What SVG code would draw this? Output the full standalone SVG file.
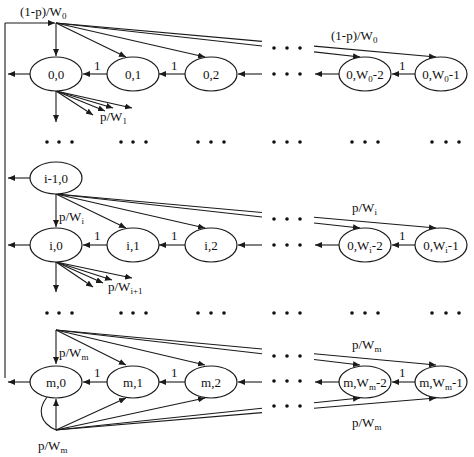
<svg xmlns="http://www.w3.org/2000/svg" width="474" height="457" viewBox="0 0 474 457">
<style>
.l{stroke:#1a1a1a;stroke-width:1.1;fill:none}
.a{stroke:#1a1a1a;stroke-width:1.1;fill:none;marker-end:url(#ah)}
ellipse{fill:#fff;stroke:#1a1a1a;stroke-width:1.2}
text{font-family:"Liberation Serif","Times New Roman",serif;font-size:13px;fill:#111}
.n{text-anchor:middle}
.s{font-size:9px}
circle{fill:#111}
</style>
<defs>
<marker id="ah" markerUnits="userSpaceOnUse" markerWidth="8" markerHeight="6" refX="7" refY="3" orient="auto">
<path d="M0,0 L7,3 L0,6 z" fill="#1a1a1a"/>
</marker>
</defs>
<rect width="474" height="457" fill="#fff"/>
<g id="connectors">
<!-- left loop -->
<path class="l" d="M5,378 V23"/>
<path class="a" d="M5,23 H55"/>
<path class="a" d="M30,74 H8"/>
<path class="a" d="M30,178 H8"/>
<path class="a" d="M30,245 H8"/>
<path class="a" d="M30,382 H8"/>
<!-- row 0 top fan -->
<path class="a" d="M56,23 V56"/>
<path class="a" d="M56,23 L126,57"/>
<path class="a" d="M56,23 L205,57"/>
<path class="l" d="M56,23 L262,41.4"/>
<path class="l" d="M56,23 L262,46"/>
<path class="a" d="M314,46.1 L436,57"/>
<path class="a" d="M314,51.9 L360,57"/>
<!-- row 0 horizontals -->
<path class="a" d="M107,74 H83"/>
<path class="a" d="M185,74 H159"/>
<path class="a" d="M262,74 H238"/>
<path class="a" d="M339,74 H315"/>
<path class="a" d="M415,74 H392"/>
<!-- row 0 bottom fan -->
<path class="a" d="M56,91 V122"/>
<path class="a" d="M56,91 L93,115"/>
<path class="a" d="M56,91 L105,111"/>
<path class="a" d="M56,91 L113,108"/>
<path class="a" d="M56,91 L132,108"/>
<!-- i-1 fan -->
<path class="a" d="M56,194 V227"/>
<path class="a" d="M56,194 L126,228"/>
<path class="a" d="M56,194 L205,228"/>
<path class="l" d="M56,194 L262,212.5"/>
<path class="l" d="M56,194 L262,217"/>
<path class="a" d="M314,217.2 L436,228"/>
<path class="a" d="M314,223 L360,228"/>
<!-- row i horizontals -->
<path class="a" d="M107,245 H83"/>
<path class="a" d="M185,245 H159"/>
<path class="a" d="M262,245 H238"/>
<path class="a" d="M339,245 H315"/>
<path class="a" d="M415,245 H392"/>
<!-- row i bottom fan -->
<path class="a" d="M56,262 V292"/>
<path class="a" d="M56,262 L93,287"/>
<path class="a" d="M56,262 L103,283"/>
<path class="a" d="M56,262 L112,280"/>
<path class="a" d="M56,262 L132,278"/>
<!-- row m top fan -->
<path class="a" d="M56,330 V364"/>
<path class="a" d="M56,330 L126,365"/>
<path class="a" d="M56,330 L205,365"/>
<path class="l" d="M56,330 L262,349"/>
<path class="l" d="M56,330 L262,353.7"/>
<path class="a" d="M314,353.8 L436,365"/>
<path class="a" d="M314,359.5 L360,365"/>
<!-- row m horizontals -->
<path class="a" d="M107,382 H83"/>
<path class="a" d="M185,382 H159"/>
<path class="a" d="M262,382 H238"/>
<path class="a" d="M339,382 H315"/>
<path class="a" d="M415,382 H392"/>
<!-- row m bottom fan -->
<path class="l" d="M47,397 C37,410 40,423 56,430"/>
<path class="a" d="M56,430 V399"/>
<path class="a" d="M56,430 L126,398"/>
<path class="a" d="M56,430 L205,398"/>
<path class="l" d="M56,430 L262,412.6"/>
<path class="l" d="M56,430 L262,408.3"/>
<path class="a" d="M314,408.3 L436,398"/>
<path class="a" d="M314,402.8 L360,398"/>
</g>
<g id="labels">
<text x="20" y="16">(1-p)/W<tspan class="s" dy="3">0</tspan></text>
<text x="331" y="40">(1-p)/W<tspan class="s" dy="3">0</tspan></text>
<text x="94" y="70">1</text>
<text x="171" y="70">1</text>
<text x="399" y="70">1</text>
<text x="100" y="121">p/W<tspan class="s" dy="3">1</tspan></text>
<text x="59" y="221">p/W<tspan class="s" dy="3">i</tspan></text>
<text x="352" y="212">p/W<tspan class="s" dy="3">i</tspan></text>
<text x="94" y="240">1</text>
<text x="171" y="240">1</text>
<text x="399" y="240">1</text>
<text x="108" y="291">p/W<tspan class="s" dy="3">i+1</tspan></text>
<text x="59" y="357">p/W<tspan class="s" dy="3">m</tspan></text>
<text x="352" y="349">p/W<tspan class="s" dy="3">m</tspan></text>
<text x="94" y="377">1</text>
<text x="171" y="377">1</text>
<text x="399" y="377">1</text>
<text x="352" y="427">p/W<tspan class="s" dy="3">m</tspan></text>
<text x="38" y="450">p/W<tspan class="s" dy="3">m</tspan></text>
</g>
<g id="dots">
<circle cx="274" cy="48" r="1.8"/><circle cx="287" cy="48" r="1.8"/><circle cx="300" cy="48" r="1.8"/>
<circle cx="274" cy="74" r="1.8"/><circle cx="287" cy="74" r="1.8"/><circle cx="300" cy="74" r="1.8"/>
<circle cx="47" cy="142" r="1.8"/><circle cx="59" cy="142" r="1.8"/><circle cx="72" cy="142" r="1.8"/>
<circle cx="121" cy="142" r="1.8"/><circle cx="133" cy="142" r="1.8"/><circle cx="146" cy="142" r="1.8"/>
<circle cx="198" cy="142" r="1.8"/><circle cx="211" cy="142" r="1.8"/><circle cx="224" cy="142" r="1.8"/>
<circle cx="274" cy="142" r="1.8"/><circle cx="287" cy="142" r="1.8"/><circle cx="300" cy="142" r="1.8"/>
<circle cx="352" cy="142" r="1.8"/><circle cx="365" cy="142" r="1.8"/><circle cx="378" cy="142" r="1.8"/>
<circle cx="432" cy="142" r="1.8"/><circle cx="446" cy="142" r="1.8"/><circle cx="459" cy="142" r="1.8"/>
<circle cx="274" cy="219" r="1.8"/><circle cx="287" cy="219" r="1.8"/><circle cx="300" cy="219" r="1.8"/>
<circle cx="274" cy="245" r="1.8"/><circle cx="287" cy="245" r="1.8"/><circle cx="300" cy="245" r="1.8"/>
<circle cx="47" cy="313" r="1.8"/><circle cx="59" cy="313" r="1.8"/><circle cx="72" cy="313" r="1.8"/>
<circle cx="121" cy="313" r="1.8"/><circle cx="133" cy="313" r="1.8"/><circle cx="146" cy="313" r="1.8"/>
<circle cx="198" cy="313" r="1.8"/><circle cx="211" cy="313" r="1.8"/><circle cx="224" cy="313" r="1.8"/>
<circle cx="274" cy="313" r="1.8"/><circle cx="287" cy="313" r="1.8"/><circle cx="300" cy="313" r="1.8"/>
<circle cx="352" cy="313" r="1.8"/><circle cx="365" cy="313" r="1.8"/><circle cx="378" cy="313" r="1.8"/>
<circle cx="432" cy="313" r="1.8"/><circle cx="446" cy="313" r="1.8"/><circle cx="459" cy="313" r="1.8"/>
<circle cx="274" cy="356" r="1.8"/><circle cx="287" cy="356" r="1.8"/><circle cx="300" cy="356" r="1.8"/>
<circle cx="274" cy="381" r="1.8"/><circle cx="287" cy="381" r="1.8"/><circle cx="300" cy="381" r="1.8"/>
<circle cx="274" cy="406" r="1.8"/><circle cx="287" cy="406" r="1.8"/><circle cx="300" cy="406" r="1.8"/>
</g>
<g id="n00"><ellipse cx="56" cy="74" rx="26" ry="17"/><text class="n" x="56" y="78.5">0,0</text></g>
<g id="n01"><ellipse cx="133" cy="74" rx="26" ry="17"/><text class="n" x="133" y="78.5">0,1</text></g>
<g id="n02"><ellipse cx="211" cy="74" rx="26" ry="17"/><text class="n" x="211" y="78.5">0,2</text></g>
<g id="n0w2"><ellipse cx="365" cy="74" rx="26" ry="17"/><text class="n" x="365" y="78.5">0,W<tspan class="s" dy="3">0</tspan><tspan dy="-3">-2</tspan></text></g>
<g id="n0w1"><ellipse cx="441" cy="74" rx="26" ry="17"/><text class="n" x="441" y="78.5">0,W<tspan class="s" dy="3">0</tspan><tspan dy="-3">-1</tspan></text></g>
<g id="ni10"><ellipse cx="56" cy="178" rx="26" ry="16"/><text class="n" x="56" y="182.5">i-1,0</text></g>
<g id="ni0"><ellipse cx="56" cy="245" rx="26" ry="17"/><text class="n" x="56" y="249.5">i,0</text></g>
<g id="ni1"><ellipse cx="133" cy="245" rx="26" ry="17"/><text class="n" x="133" y="249.5">i,1</text></g>
<g id="ni2"><ellipse cx="211" cy="245" rx="26" ry="17"/><text class="n" x="211" y="249.5">i,2</text></g>
<g id="niw2"><ellipse cx="365" cy="245" rx="26" ry="17"/><text class="n" x="365" y="249.5">0,W<tspan class="s" dy="3">i</tspan><tspan dy="-3">-2</tspan></text></g>
<g id="niw1"><ellipse cx="441" cy="245" rx="26" ry="17"/><text class="n" x="441" y="249.5">0,W<tspan class="s" dy="3">i</tspan><tspan dy="-3">-1</tspan></text></g>
<g id="nm0"><ellipse cx="56" cy="382" rx="26" ry="16"/><text class="n" x="56" y="386.5">m,0</text></g>
<g id="nm1"><ellipse cx="133" cy="382" rx="26" ry="16"/><text class="n" x="133" y="386.5">m,1</text></g>
<g id="nm2"><ellipse cx="211" cy="382" rx="26" ry="16"/><text class="n" x="211" y="386.5">m,2</text></g>
<g id="nmw2"><ellipse cx="365" cy="382" rx="26" ry="16"/><text class="n" x="365" y="386.5">m,W<tspan class="s" dy="3">m</tspan><tspan dy="-3">-2</tspan></text></g>
<g id="nmw1"><ellipse cx="441" cy="382" rx="26" ry="16"/><text class="n" x="441" y="386.5">m,W<tspan class="s" dy="3">m</tspan><tspan dy="-3">-1</tspan></text></g>
</svg>
